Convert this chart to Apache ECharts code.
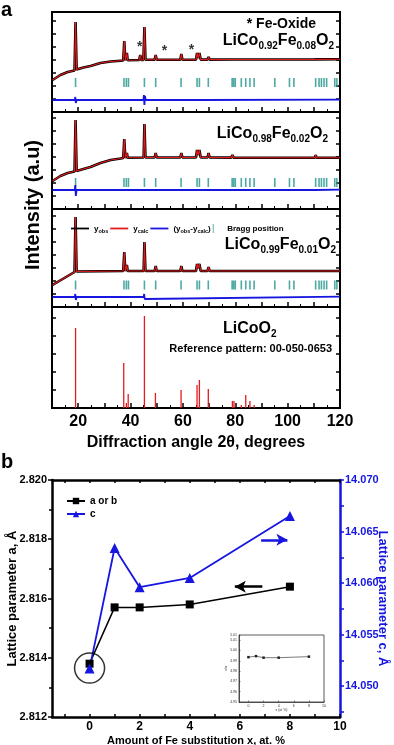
<!DOCTYPE html>
<html>
<head>
<meta charset="utf-8">
<script src="https://cdn.jsdelivr.net/npm/echarts@6/dist/echarts.min.js"></script>
<style>
html, body { margin: 0; padding: 0; background: #fff; }
#chart { width: 394px; height: 745px; }
</style>
</head>
<body>
<div id="chart"></div>
<script>
const FONT = '"Liberation Sans", Arial, sans-serif';
const RED = "#e41a1c";
const BLUE = "#1616e0";
const TEAL = "#23948c";

// (a) XRD profiles, [2theta, intensity] (arbitrary units, per panel)
const prof092 = [
  [10.2, 32], [13.2, 37], [16.0, 40], [18.6, 41.5], [19.0, 90], [19.4, 42.5], [22.0, 44.5], [24.7, 46],
  [28.5, 49], [32.4, 50.5], [36.2, 51.3], [37.2, 51.5], [37.6, 71], [38.0, 51.7], [38.3, 51.7], [38.6, 59],
  [38.9, 51.8], [39.2, 53], [39.5, 51.8], [43.3, 52], [43.7, 57], [44.1, 52], [44.9, 52], [45.3, 85],
  [45.7, 52.2], [49.2, 52.2], [49.6, 57], [50.0, 52.2], [59.0, 52.3], [59.4, 58], [59.8, 52.3], [65.0, 52.4],
  [65.4, 59], [65.8, 54], [66.3, 59], [66.8, 52.4], [69.4, 52.4], [69.8, 55], [70.2, 52.4], [78.5, 52.5],
  [78.9, 54], [79.3, 52.5], [83.7, 52.5], [84.0, 54], [84.3, 52.5], [110.4, 52.6], [110.7, 54], [111.0, 52.6],
  [120, 52.7],
];
const prof098 = [
  [10.2, 28], [13.2, 33], [16.0, 36], [18.6, 37.5], [19.0, 89], [19.4, 38], [22.0, 40], [24.7, 42],
  [28.5, 46], [32.4, 49], [36.2, 50.5], [37.2, 51], [37.6, 70], [38.0, 51], [38.3, 51], [38.6, 56],
  [38.9, 51.2], [45.0, 51.5], [45.3, 85], [45.7, 51.5], [49.2, 51.5], [49.6, 56], [50.0, 51.5], [59.0, 51.5],
  [59.4, 56], [59.8, 51.5], [65.0, 51.5], [65.4, 59], [65.8, 54], [66.3, 59], [66.8, 51.5], [69.4, 51.5],
  [69.8, 56], [70.2, 51.5], [78.5, 51.4], [78.9, 54], [79.3, 51.4], [110.4, 51.3], [110.7, 54], [111.0, 51.3],
  [120, 51.3],
];
const prof099 = [
  [10.2, 22], [18.6, 35], [19.0, 90], [19.4, 35.5], [37.2, 36], [37.6, 55], [38.0, 36], [38.3, 36],
  [38.6, 42], [38.9, 36], [45.0, 36], [45.3, 65], [45.7, 36], [49.2, 36], [49.6, 41], [50.0, 36],
  [59.0, 36], [59.4, 41], [59.8, 36], [65.0, 36], [65.4, 43], [65.8, 39], [66.3, 43], [66.8, 36],
  [69.4, 36], [69.8, 40], [70.2, 36], [78.5, 36], [78.9, 38], [79.3, 36], [120, 36],
];
const diff092 = [
  [10.2, 12], [18.7, 12], [18.9, 15], [19.1, 9], [19.4, 12], [37.3, 12], [37.6, 14], [37.9, 11], [38.2, 12],
  [44.9, 12], [45.1, 17], [45.3, 7], [45.5, 16], [45.8, 12], [65.2, 12], [65.5, 13.5], [65.8, 11], [66.1, 12],
  [120, 12.3],
];
const diff098 = [
  [10.2, 19], [18.7, 19], [18.9, 24], [19.1, 13], [19.4, 19], [37.3, 19], [37.6, 21], [37.9, 18], [38.2, 19],
  [45.0, 19], [45.2, 21], [45.4, 17], [45.7, 19], [110.5, 19], [110.8, 17], [111.1, 19], [120, 19.3],
];
const diff099 = [
  [10.2, 10], [18.7, 10], [18.9, 13], [19.1, 7], [19.4, 10], [37.3, 10], [37.6, 12], [37.9, 9], [38.2, 10],
  [45.0, 10], [45.2, 13], [45.4, 8], [45.7, 10], [120, 10.3],
];
const braggPos = [
  19.0, 37.5, 38.4, 39.2, 45.3, 49.6, 59.3, 65.4, 66.3, 69.7, 78.8, 79.4, 80.0, 82.3,
  84.0, 85.6, 87.2, 95.1, 100.7, 102.4, 110.7, 112.0, 112.9, 113.9, 114.9, 118.0, 118.8,
];
const braggLevel = [29.5, 26.5, 22];
const refPos = [19.0, 37.4, 38.4, 39.1, 45.3, 49.5, 59.3, 65.4, 66.3, 69.7, 78.9, 79.5, 82.3, 84.0, 85.6, 87.2];
const refInt = [80, 45, 5, 14, 92, 15, 18, 23, 28, 19, 7, 7, 3, 13, 7, 3];
const starPts = [[43.5, 65], [53.0, 61], [63.3, 62]];

// (b) lattice parameters vs Fe content
const feX = [0, 1, 2, 4, 8];
const latA = [2.8138, 2.8157, 2.8157, 2.8158, 2.8164];
const latC = [14.0517, 14.0634, 14.0596, 14.0605, 14.0665];
const ratioCA = [4.9935, 4.9945, 4.993, 4.993, 4.994];
const arrowA = [[6.9, 2.8164], [5.8, 2.8164]];
const arrowC = [[6.85, 14.0642], [7.9, 14.0642]];
const circleAt = [[0, 2.81365]];
const xTicksB = [-1, 0, 1, 2, 3, 4, 5, 6, 7, 8, 9, 10];
const xLabelsB = [0, 2, 4, 6, 8, 10];
const cLabels = [14.05, 14.055, 14.06, 14.065, 14.07];
const cTicks = [14.0475, 14.05, 14.0525, 14.055, 14.0575, 14.06, 14.0625, 14.065, 14.0675, 14.07];

const profs = [prof092, prof098, prof099];
const diffs = [diff092, diff098, diff099];
const tops = [12, 112, 209, 307];
const heights = [100, 97, 98, 101];

const chart = echarts.init(document.getElementById("chart"));

const grids = tops.map((t, i) => ({
  left: 52, right: 54, top: t, height: heights[i], outerBoundsMode: "none",
  show: true, borderColor: "#000", borderWidth: 2,
}));
grids.push({ left: 52, right: 54, top: 480, bottom: 28, outerBoundsMode: "none" });
grids.push({ left: 239, top: 635, width: 85, height: 67, outerBoundsMode: "none",
  show: true, borderColor: "#333", borderWidth: 0.8 });

const xAxes = tops.map((t, i) => ({
  type: "value", gridIndex: i, min: 10, max: 120, interval: 10,
  axisLine: { onZero: false, lineStyle: { color: "#000", width: 2 } },
  axisTick: { inside: true, length: 5, lineStyle: { color: "#000", width: 1.5 } },
  minorTick: { show: true, splitNumber: 2, length: 3, lineStyle: { color: "#000" } },
  splitLine: { show: false },
  axisLabel: i === 3
    ? { fontFamily: FONT, fontSize: 16, fontWeight: "bold", color: "#000", margin: 6,
        formatter: (v) => (v % 20 === 0 ? v : "") }
    : { show: false },
  name: i === 3 ? "Diffraction angle 2\u03b8, degrees" : "",
  nameLocation: "middle", nameGap: 27, nameMoveOverlap: false,
  nameTextStyle: { fontFamily: FONT, fontSize: 16, fontWeight: "bold", color: "#000" },
}));
xAxes.push({
  type: "value", gridIndex: 4, min: -1.5, max: 10,
  axisLine: { onZero: false, lineStyle: { color: "#000", width: 2.5 } },
  axisTick: { inside: true, length: 3, customValues: xTicksB, lineStyle: { color: "#000", width: 1.5 } },
  axisLabel: { customValues: xLabelsB, fontFamily: FONT, fontSize: 12, fontWeight: "bold", color: "#000", margin: 4 },
  splitLine: { show: false },
  name: "Amount of Fe substitution x, at. %", nameLocation: "middle", nameGap: 18, nameMoveOverlap: false,
  nameTextStyle: { fontFamily: FONT, fontSize: 11, fontWeight: "bold", color: "#000" },
});
xAxes.push({
  type: "value", gridIndex: 4, position: "top", min: -1.5, max: 10,
  axisLine: { onZero: false, lineStyle: { color: "#000", width: 2.5 } },
  axisTick: { inside: true, length: 3, customValues: xTicksB, lineStyle: { color: "#000", width: 1.5 } },
  axisLabel: { show: false }, splitLine: { show: false },
});
xAxes.push({
  type: "value", gridIndex: 5, min: -1.25, max: 10,
  axisLine: { onZero: false, lineStyle: { color: "#333", width: 0.8 } },
  axisTick: { inside: true, length: 1.5, customValues: xLabelsB, lineStyle: { color: "#333", width: 0.6 } },
  axisLabel: { customValues: xLabelsB, fontSize: 3.5, color: "#333", margin: 2 },
  splitLine: { show: false },
  name: "x (at %)", nameLocation: "middle", nameGap: 6, nameMoveOverlap: false,
  nameTextStyle: { fontSize: 3.5, color: "#333" },
});

const yAxes = [];
["left", "right"].forEach((pos) => {
  tops.forEach((t, i) => {
    yAxes.push({
      type: "value", gridIndex: i, position: pos, min: 0, max: heights[i], interval: i === 3 ? 18 : 13,
      axisLine: { show: true, onZero: false, lineStyle: { color: "#000", width: 2 } },
      axisTick: { show: true, inside: true, length: 4, lineStyle: { color: "#000", width: 1.5 } },
      axisLabel: { show: false }, splitLine: { show: false },
    });
  });
});
yAxes.push({
  type: "value", gridIndex: 4, min: 2.812, max: 2.82, interval: 0.002,
  axisLine: { show: true, onZero: false, lineStyle: { color: "#000", width: 2.5 } },
  axisTick: { length: 4, lineStyle: { color: "#000", width: 1.5 } },
  minorTick: { show: true, splitNumber: 2, length: 3, lineStyle: { color: "#000", width: 1.5 } },
  axisLabel: { fontFamily: FONT, fontSize: 11, fontWeight: "bold", color: "#000", margin: 5,
    formatter: (v) => v.toFixed(3) },
  splitLine: { show: false },
  name: "Lattice parameter a, \u00c5", nameLocation: "middle", nameGap: 33, nameMoveOverlap: false,
  nameTextStyle: { fontFamily: FONT, fontSize: 13, fontWeight: "bold", color: "#000" },
});
yAxes.push({
  type: "value", gridIndex: 4, position: "right", min: 14.047, max: 14.07,
  axisLine: { show: true, onZero: false, lineStyle: { color: BLUE, width: 2.5 } },
  axisTick: { length: 4, customValues: cTicks, lineStyle: { color: BLUE, width: 1.5 } },
  axisLabel: { customValues: cLabels, fontFamily: FONT, fontSize: 11, fontWeight: "bold", color: BLUE, margin: 5,
    formatter: (v) => v.toFixed(3) },
  splitLine: { show: false },
  name: "Lattice parameter c, \u00c5", nameLocation: "middle", nameGap: 36, nameRotate: -90, nameMoveOverlap: false,
  nameTextStyle: { fontFamily: FONT, fontSize: 13, fontWeight: "bold", color: BLUE },
});
yAxes.push({
  type: "value", gridIndex: 5, min: 4.95, max: 5.015, interval: 0.01,
  axisLine: { show: true, onZero: false, lineStyle: { color: "#333", width: 0.8 } },
  axisTick: { inside: true, length: 1.5, lineStyle: { color: "#333", width: 0.6 } },
  axisLabel: { fontSize: 3.5, color: "#333", margin: 2, formatter: (v) => v.toFixed(2) },
  splitLine: { show: false },
  name: "c/a", nameLocation: "middle", nameGap: 11, nameMoveOverlap: false,
  nameTextStyle: { fontSize: 3.5, color: "#333" },
});

const series = [];
profs.forEach((prof, i) => {
  series.push({
    name: "yobs", type: "line", xAxisIndex: i, yAxisIndex: i, data: prof, symbol: "none",
    lineStyle: { color: "#000", width: 2.6 }, itemStyle: { color: "#000" },
  });
  series.push({
    name: "ycalc", type: "line", xAxisIndex: i, yAxisIndex: i, data: prof, symbol: "none",
    lineStyle: { color: RED, width: 1.1 }, itemStyle: { color: RED },
  });
  series.push({
    name: "ydiff", type: "line", xAxisIndex: i, yAxisIndex: i, data: diffs[i], symbol: "none",
    lineStyle: { color: BLUE, width: 1.8 }, itemStyle: { color: BLUE },
  });
  series.push({
    name: "Bragg position", type: "scatter", xAxisIndex: i, yAxisIndex: i,
    data: braggPos.map((p) => [p, braggLevel[i]]),
    symbol: "rect", symbolSize: [1.6, 9], itemStyle: { color: TEAL },
  });
});
series.push({
  type: "scatter", xAxisIndex: 0, yAxisIndex: 0, data: starPts, symbolSize: 1,
  itemStyle: { color: "transparent" },
  label: { show: true, position: "inside", formatter: "*", fontFamily: FONT, fontSize: 14, fontWeight: "bold", color: "#000" },
});
series.push({
  type: "bar", xAxisIndex: 3, yAxisIndex: 3, data: refPos.map((p, k) => [p, refInt[k]]),
  barWidth: 1.3, itemStyle: { color: RED },
});
series.push({
  name: "a or b", type: "line", xAxisIndex: 4, yAxisIndex: 8,
  data: feX.map((x, k) => [x, latA[k]]),
  symbol: "rect", symbolSize: 8, lineStyle: { color: "#000", width: 1.5 }, itemStyle: { color: "#000" },
  markLine: {
    silent: true, symbol: ["none", "arrow"], symbolSize: [9, 11],
    lineStyle: { color: "#000", width: 2.5, type: "solid" }, label: { show: false },
    data: [[{ coord: arrowA[0] }, { coord: arrowA[1] }]],
  },
});
series.push({
  name: "c", type: "line", xAxisIndex: 4, yAxisIndex: 9,
  data: feX.map((x, k) => [x, latC[k]]),
  symbol: "triangle", symbolSize: 10, lineStyle: { color: BLUE, width: 1.8 }, itemStyle: { color: BLUE },
  markLine: {
    silent: true, symbol: ["none", "arrow"], symbolSize: [9, 11],
    lineStyle: { color: BLUE, width: 2.5, type: "solid" }, label: { show: false },
    data: [[{ coord: arrowC[0] }, { coord: arrowC[1] }]],
  },
});
series.push({
  type: "scatter", xAxisIndex: 4, yAxisIndex: 8, data: circleAt, symbol: "circle", symbolSize: 30,
  itemStyle: { color: "transparent", borderColor: "#000", borderWidth: 1.5 }, z: 5,
});
series.push({
  type: "line", xAxisIndex: 6, yAxisIndex: 10, data: feX.map((x, k) => [x, ratioCA[k]]),
  symbol: "rect", symbolSize: 2.5, lineStyle: { color: "#222", width: 0.6 }, itemStyle: { color: "#222" },
});

const formulaRich = {
  m: { fontFamily: FONT, fontSize: 16, fontWeight: "bold", fill: "#000" },
  s: { fontFamily: FONT, fontSize: 10, fontWeight: "bold", fill: "#000", padding: [10, 0, 0, 0] },
};
const legendText = {
  yobs: "{i|y}{s|obs}",
  ycalc: "{i|y}{s|calc}",
  ydiff: "{i|(y}{s|obs}{i|-y}{s|calc}{i|)}",
  "Bragg position": "{i|Bragg position}",
};
const lineIcon = "path://M0,0h20v2h-20z";

const option = {
  animation: false,
  backgroundColor: "#fff",
  grid: grids,
  xAxis: xAxes,
  yAxis: yAxes,
  series: series,
  legend: [
    {
      data: [
        { name: "yobs", icon: lineIcon },
        { name: "ycalc", icon: lineIcon },
        { name: "ydiff", icon: lineIcon },
        { name: "Bragg position", icon: "path://M0,0h1v10h-1z" },
      ],
      left: 66, top: 219, itemWidth: 18, itemHeight: 9, itemGap: 2,
      formatter: (n) => legendText[n],
      textStyle: {
        fontFamily: FONT, fontSize: 8, fontWeight: "bold", color: "#000",
        rich: {
          i: { fontFamily: FONT, fontSize: 8, fontWeight: "bold", color: "#000" },
          s: { fontFamily: FONT, fontSize: 5.5, fontWeight: "bold", color: "#000", padding: [5, 0, 0, 0] },
        },
      },
    },
    {
      data: ["a or b", "c"], orient: "vertical", left: 61, top: 491,
      itemWidth: 18, itemHeight: 8, itemGap: 3,
      textStyle: { fontFamily: FONT, fontSize: 10, fontWeight: "bold", color: "#000" },
    },
  ],
  graphic: [
    { type: "text", left: 1, top: 0, style: { text: "a", font: "bold 20px " + FONT, fill: "#000" } },
    { type: "text", left: 1, top: 452, style: { text: "b", font: "bold 20px " + FONT, fill: "#000" } },
    {
      type: "text", x: 33, y: 205, rotation: Math.PI / 2,
      style: { text: "Intensity (a.u)", font: "bold 20px " + FONT, fill: "#000", align: "center", verticalAlign: "middle" },
    },
    { type: "text", right: 78, top: 17, style: { text: "* Fe-Oxide", font: "bold 14px " + FONT, fill: "#000" } },
    { type: "text", right: 60, top: 33, style: { text: "{m|LiCo}{s|0.92}{m|Fe}{s|0.08}{m|O}{s|2}", rich: formulaRich } },
    { type: "text", right: 66, top: 126, style: { text: "{m|LiCo}{s|0.98}{m|Fe}{s|0.02}{m|O}{s|2}", rich: formulaRich } },
    { type: "text", right: 58, top: 237, style: { text: "{m|LiCo}{s|0.99}{m|Fe}{s|0.01}{m|O}{s|2}", rich: formulaRich } },
    { type: "text", left: 223, top: 321, style: { text: "{m|LiCoO}{s|2}", rich: formulaRich } },
    { type: "text", right: 62, top: 343, style: { text: "Reference pattern: 00-050-0653", font: "bold 11px " + FONT, fill: "#000" } },
  ],
};

chart.setOption(option);
</script>
</body>
</html>
